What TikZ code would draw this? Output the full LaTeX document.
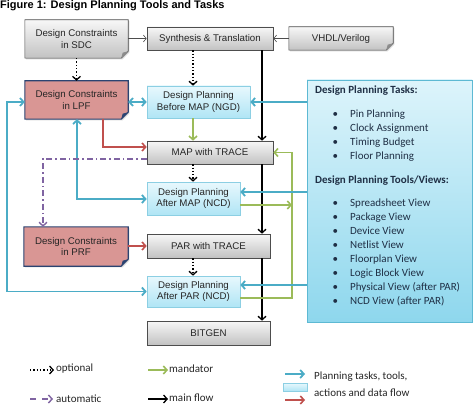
\documentclass[tikz,border=0pt]{standalone}
\usepackage{fontspec}
\setmainfont{Liberation Sans}
\newfontfamily\calib{Carlito}
\usetikzlibrary{arrows.meta,shadows,calc,backgrounds}
\definecolor{gtop}{HTML}{F7F7F7}
\definecolor{gbot}{HTML}{C2C2C2}
\definecolor{gborder}{HTML}{4D4D4D}
\definecolor{gfold}{HTML}{8C8C8C}
\definecolor{ctop}{HTML}{E8F8FD}
\definecolor{cbot}{HTML}{B0E5F5}
\definecolor{cborder}{HTML}{8CCFE3}
\definecolor{redfill}{HTML}{D99694}
\definecolor{navy}{HTML}{2B4472}
\definecolor{ttop}{HTML}{DDF4FB}
\definecolor{tbot}{HTML}{8ED7ED}
\definecolor{tborder}{HTML}{5DB9D3}
\definecolor{pblue}{HTML}{4BACC6}
\definecolor{mgreen}{HTML}{9BBB59}
\definecolor{ared}{HTML}{C0504D}
\definecolor{apurple}{HTML}{8064A2}
\definecolor{txt}{HTML}{262626}
\definecolor{tasktxt}{HTML}{1F2F45}
\newcommand\myfold[3]{%
  \begin{scope}[on background layer]
    \path[#2] (#1.north west) -- (#1.north east) -- ($(#1.south east)+(0,-7)$)
      -- ($(#1.south east)+(-7,0)$) -- (#1.south west) -- cycle;
    \fill[#3] ($(#1.south east)+(0,-7)$) -- ($(#1.south east)+(-7,0)$)
      -- ($(#1.south east)+(-5.5,-5.5)$) -- cycle;
  \end{scope}}
\begin{document}
\begin{tikzpicture}[x=1pt,y=-1pt,
  boxfont/.style={font=\fontsize{9.7}{11.5}\selectfont, text=txt, align=center, inner sep=0pt},
  shad/.style={drop shadow={shadow xshift=1.2pt, shadow yshift=-1.2pt, opacity=0.3}},
  graybox/.style={boxfont, draw=gborder, line width=0.6pt, top color=gtop, bottom color=gbot, shad},
  cyanbox/.style={boxfont, draw=cborder, line width=0.6pt, top color=ctop, bottom color=cbot, shad},
  foldtext/.style={boxfont},
  grayfold/.style={draw=gborder, line width=0.6pt, top color=gtop, bottom color=gbot, shad},
  redfold/.style={draw=navy, line width=1.1pt, fill=redfill, shad},
  taskbox/.style={draw=tborder, line width=0.7pt, top color=ttop, bottom color=tbot, shad},
  tip/.style={-{Straight Barb[length=3.6pt,width=8pt]}},
  mainarrow/.style={black, line width=1.3pt, tip},
  optarrow/.style={black, line width=1.3pt, dotted, tip},
  mandarrow/.style={mgreen, line width=1.6pt, tip},
  planarrow/.style={pblue, line width=1.8pt, tip},
  planboth/.style={pblue, line width=1.8pt, {Straight Barb[length=3.6pt,width=8pt]}-{Straight Barb[length=3.6pt,width=8pt]}},
  redarrow/.style={ared, line width=1.6pt, tip},
  autoarrow/.style={apurple, line width=1.4pt, dash pattern=on 6pt off 3pt on 1.5pt off 3pt, tip},
  grayarrow/.style={gborder, line width=0.6pt, -{Straight Barb[length=3pt,width=7pt]}},
  legtext/.style={font=\calib\fontsize{11}{13}\selectfont, text=txt, inner sep=0pt, anchor=west},
]
\useasboundingbox (0,0) rectangle (474,409);
\begin{scope}[on background layer]
\fill[white] (0,0) rectangle (474,409);
\end{scope}

\node[anchor=west, inner sep=0pt, font=\bfseries\fontsize{11}{13}\selectfont] (title) at (0,6) {Figure 1: Design Planning Tools and Tasks};

% folded boxes
\node[foldtext, minimum width=103pt, minimum height=38pt] (sdc) at (76.5,39) {Design Constraints\\in SDC};
\myfold{sdc}{grayfold}{gfold}
\node[foldtext, minimum width=104pt, minimum height=23pt] (vhdl) at (341,38.5) {VHDL/Verilog};
\myfold{vhdl}{grayfold}{gfold}
\node[foldtext, minimum width=103pt, minimum height=38pt] (lpf) at (76.5,100) {Design Constraints\\in LPF};
\myfold{lpf}{redfold}{navy}
\node[foldtext, minimum width=104pt, minimum height=39pt] (prf) at (76,246.5) {Design Constraints\\in PRF};
\myfold{prf}{redfold}{navy}

% flow boxes
\node[graybox, minimum width=126pt, minimum height=23pt] (syn) at (210,38.5) {Synthesis \& Translation};
\node[cyanbox, minimum width=103pt, minimum height=32pt] (ngd) at (198.5,102) {Design Planning\\Before MAP (NGD)};
\node[graybox, minimum width=126pt, minimum height=23pt] (map) at (210,152.5) {MAP with TRACE};
\node[cyanbox, minimum width=93pt, minimum height=33pt] (ncd1) at (193.5,198.5) {Design Planning\\After MAP (NCD)};
\node[graybox, minimum width=123pt, minimum height=24pt] (par) at (208.5,246) {PAR with TRACE};
\node[cyanbox, minimum width=93pt, minimum height=31pt] (ncd2) at (193.5,291.5) {Design Planning\\After PAR (NCD)};
\node[graybox, minimum width=123pt, minimum height=24pt] (bit) at (208.5,333) {BITGEN};

% task box
\node[taskbox, minimum width=165pt, minimum height=242pt] (task) at (389.5,201) {};
\node[anchor=north west, inner sep=0pt, align=left, text=tasktxt, font=\calib\fontsize{11}{14}\selectfont] (tasktext) at (315,86)
{\textbf{Design Planning Tasks:}\\[10pt]
\makebox[35pt][r]{\textbullet\hspace{12pt}}Pin Planning\\
\makebox[35pt][r]{\textbullet\hspace{12pt}}Clock Assignment\\
\makebox[35pt][r]{\textbullet\hspace{12pt}}Timing Budget\\
\makebox[35pt][r]{\textbullet\hspace{12pt}}Floor Planning\\[10pt]
\textbf{Design Planning Tools/Views:}\\[9pt]
\makebox[35pt][r]{\textbullet\hspace{12pt}}Spreadsheet View\\
\makebox[35pt][r]{\textbullet\hspace{12pt}}Package View\\
\makebox[35pt][r]{\textbullet\hspace{12pt}}Device View\\
\makebox[35pt][r]{\textbullet\hspace{12pt}}Netlist View\\
\makebox[35pt][r]{\textbullet\hspace{12pt}}Floorplan View\\
\makebox[35pt][r]{\textbullet\hspace{12pt}}Logic Block View\\
\makebox[35pt][r]{\textbullet\hspace{12pt}}Physical View (after PAR)\\
\makebox[35pt][r]{\textbullet\hspace{12pt}}NCD View (after PAR)};

% helper coordinates
\coordinate (mx) at (262,0);
\coordinate (dx) at (193,0);
\coordinate (gx) at (292,0);
\coordinate (lx) at (7,0);
\coordinate (px) at (43,0);
\coordinate (rx) at (103,0);
\coordinate (bx) at (77,0);
\coordinate (g1) at (292,298);
\coordinate (g2) at (292,205);
\coordinate (b2) at (0,192);
\coordinate (b3) at (0,285);
\coordinate (b4) at (0,199);
\coordinate (r1) at (0,147);
\coordinate (a1) at (0,159);

% gray inputs
\draw[grayarrow] (sdc.east |- syn.west) -- (syn.west);
\draw[grayarrow] (vhdl.west) -- (syn.east);

% main flow
\draw[mainarrow] (syn.south -| mx) -- (map.north -| mx);
\draw[mainarrow] (map.south -| mx) -- (par.north -| mx);
\draw[mainarrow] (par.south -| mx) -- (bit.north -| mx);

% optional
\draw[optarrow] (sdc.south) -- (lpf.north);
\draw[optarrow] (syn.south -| dx) -- (ngd.north -| dx);
\draw[optarrow] (map.south -| dx) -- (ncd1.north -| dx);
\draw[optarrow] (par.south -| dx) -- (ncd2.north -| dx);

% mandatory
\draw[mandarrow] (ngd.south -| dx) -- (map.north -| dx);
\draw[mandarrow, line join=miter] (ncd2.east |- g1) -- (g1) -- (gx |- map.east) -- (map.east);
\draw[mandarrow] (ncd1.east |- g2) -- (g2);

% planning
\draw[planarrow] (task.west |- ngd.east) -- (ngd.east);
\draw[planarrow] (task.west |- b2) -- (ncd1.east |- b2);
\draw[planarrow] (task.west |- b3) -- (ncd2.east |- b3);
\draw[planboth] (lpf.east |- ngd.west) -- (ngd.west);
\draw[planboth] (lpf.south -| bx) -- (bx |- b4) -- (ncd1.west |- b4);
\draw[planboth] (ncd2.west) -- (lx |- ncd2.west) -- (lx |- ngd.west) -- (lpf.west |- ngd.west);

% red
\draw[redarrow] (lpf.south -| rx) -- (rx |- r1) -- (map.west |- r1);
\draw[redarrow] (prf.east |- par.west) -- (par.west);

% automatic
\draw[autoarrow] (map.west |- a1) -- (px |- a1) -- (prf.north -| px);

% legend
\coordinate (lo1) at (30,370); \coordinate (lo2) at (54,370);
\draw[optarrow] (lo1) -- (lo2);
\node[legtext] (lopt) at (56,369) {optional};
\coordinate (la1) at (30,399); \coordinate (la2) at (53,399);
\draw[autoarrow, dash pattern=on 6pt off 6pt] (la1) -- (la2);
\node[legtext] (lauto) at (56,399) {automatic};
\coordinate (lm1) at (148,370); \coordinate (lm2) at (168,370);
\draw[mandarrow] (lm1) -- (lm2);
\node[legtext] (lmand) at (169,369) {mandator};
\coordinate (lf1) at (148,399); \coordinate (lf2) at (168,399);
\draw[mainarrow] (lf1) -- (lf2);
\node[legtext] (lmain) at (169,398) {main flow};
\coordinate (lb1) at (285,374); \coordinate (lb2) at (305,374);
\draw[planarrow] (lb1) -- (lb2);
\node[cyanbox, minimum width=24pt, minimum height=8pt] (lrect) at (295,387) {};
\coordinate (lr1) at (285,400); \coordinate (lr2) at (305,400);
\draw[redarrow] (lr1) -- (lr2);
\node[legtext] (lplan1) at (314,377) {Planning tasks, tools,};
\node[legtext] (lplan2) at (314,393) {actions and data flow};
\end{tikzpicture}
\end{document}
